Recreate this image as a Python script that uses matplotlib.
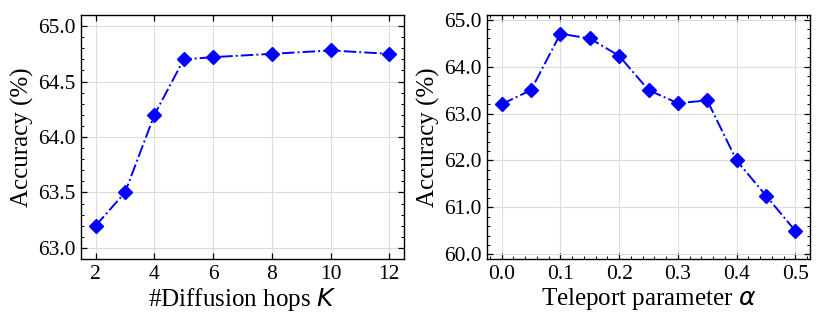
import matplotlib
matplotlib.use("Agg")
import matplotlib.pyplot as plt
from matplotlib.ticker import AutoMinorLocator, MultipleLocator, FormatStrFormatter

# data
hops = [2, 3, 4, 5, 6, 8, 10, 12]
acc_hops = [63.2, 63.5, 64.2, 64.7, 64.72, 64.75, 64.78, 64.75]

alpha = [0.0, 0.05, 0.1, 0.15, 0.2, 0.25, 0.3, 0.35, 0.4, 0.45, 0.5]
acc_alpha = [63.2, 63.5, 64.7, 64.6, 64.23, 63.5, 63.22, 63.28, 62.0, 61.25, 60.5]

plt.rcParams['font.family'] = ['Liberation Serif', 'DejaVu Serif']
plt.rcParams['mathtext.fontset'] = 'dejavusans'

fig = plt.figure(figsize=(8.22, 3.29), dpi=100)
ax1 = fig.add_axes([81 / 822, 1 - 259 / 329, 323 / 822, 244 / 329])
ax2 = fig.add_axes([487 / 822, 1 - 259 / 329, 323 / 822, 244 / 329])


def style_axis(ax):
    ax.tick_params(which='both', direction='in', top=True, right=True, labelsize=15.5)
    ax.tick_params(which='major', length=4, width=0.9, pad=4)
    ax.tick_params(which='minor', length=2, width=0.7)
    ax.grid(True, color='#dcdcdc', linewidth=0.8)
    ax.set_axisbelow(True)
    for s in ax.spines.values():
        s.set_linewidth(1.0)


ax1.plot(hops, acc_hops, color='blue', linestyle='-.', linewidth=1.4,
         marker='D', markersize=7.5)
ax1.set_xlim(1.5, 12.5)
ax1.set_ylim(62.9, 65.1)
ax1.set_xticks([2, 4, 6, 8, 10, 12])
ax1.yaxis.set_major_locator(MultipleLocator(0.5))
ax1.yaxis.set_minor_locator(AutoMinorLocator(5))
ax1.yaxis.set_major_formatter(FormatStrFormatter('%.1f'))
ax1.set_xlabel('#Diffusion hops $K$', fontsize=18, labelpad=2)
ax1.set_ylabel('Accuracy (%)', fontsize=18, labelpad=3)
style_axis(ax1)

ax2.plot(alpha, acc_alpha, color='blue', linestyle='-.', linewidth=1.4,
         marker='D', markersize=7.5)
ax2.set_xlim(-0.025, 0.525)
ax2.set_ylim(59.9, 65.1)
ax2.xaxis.set_major_locator(MultipleLocator(0.1))
ax2.xaxis.set_minor_locator(AutoMinorLocator(5))
ax2.yaxis.set_major_locator(MultipleLocator(1.0))
ax2.yaxis.set_minor_locator(AutoMinorLocator(5))
ax2.xaxis.set_major_formatter(FormatStrFormatter('%.1f'))
ax2.yaxis.set_major_formatter(FormatStrFormatter('%.1f'))
ax2.set_xlabel(r'Teleport parameter $\alpha$', fontsize=18, labelpad=2)
ax2.set_ylabel('Accuracy (%)', fontsize=18, labelpad=3)
style_axis(ax2)

fig.savefig('out.png', dpi=100)
